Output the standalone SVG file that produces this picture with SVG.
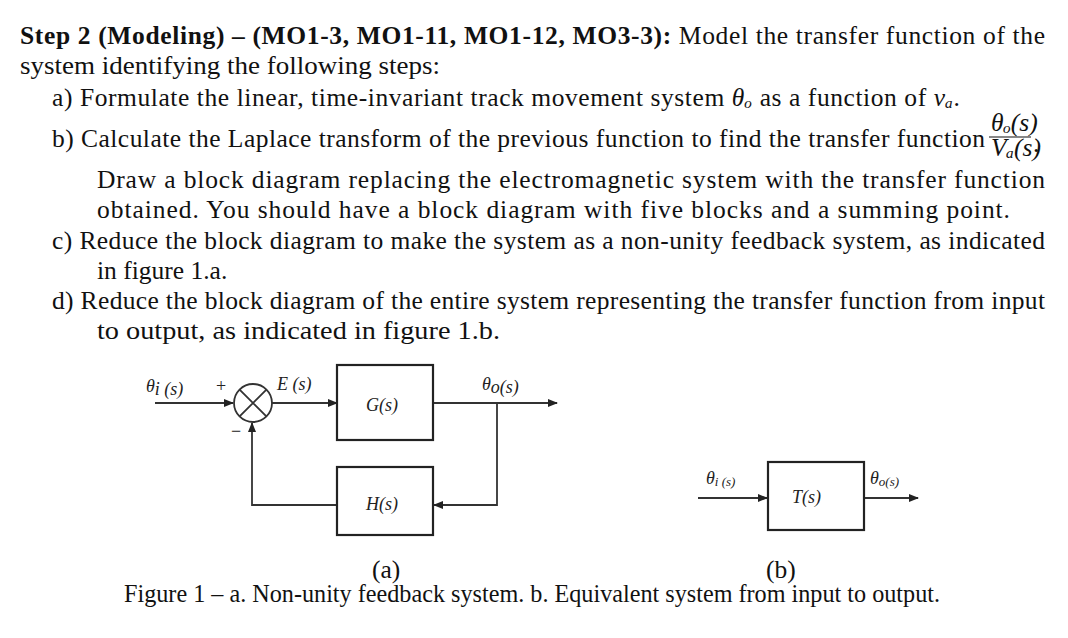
<svg xmlns="http://www.w3.org/2000/svg" width="1068" height="638" viewBox="0 0 1068 638">
<style>
.t{font-family:"Liberation Serif",serif;font-size:25.5px;fill:#111}
.b{font-weight:bold}
.d{font-family:"Liberation Serif",serif;font-size:18px;fill:#222}
.i{font-style:italic}
.box{fill:#fff;stroke:#222;stroke-width:2.2}
.ln{fill:none;stroke:#333;stroke-width:1.8}
</style>
<defs><marker id="a" markerWidth="10" markerHeight="8" refX="9" refY="4" orient="auto" markerUnits="userSpaceOnUse"><path d="M0,0L10,4L0,8z" fill="#222"/></marker></defs>
<rect width="1068" height="638" fill="#fff"/>
<g id="text">
<text class="t" x="20" y="44" textLength="1025" lengthAdjust="spacing"><tspan class="b">Step 2 (Modeling) – (MO1-3, MO1-11, MO1-12, MO3-3):</tspan> Model the transfer function of the</text>
<text class="t" x="20" y="74" textLength="420" lengthAdjust="spacingAndGlyphs">system identifying the following steps:</text>
<text class="t" x="52" y="106" textLength="908" lengthAdjust="spacing">a)  Formulate the linear, time-invariant track movement system <tspan class="i">θₒ</tspan> as a function of <tspan class="i">vₐ</tspan>.</text>
<text class="t" x="52" y="147" textLength="933" lengthAdjust="spacing">b)  Calculate the Laplace transform of the previous function to find the transfer function</text>
<text class="t i" x="991" y="131" font-size="15">θₒ(s)</text>
<line x1="989" y1="137" x2="1031" y2="137" stroke="#111" stroke-width="1.2"/>
<text class="t i" x="991" y="156" font-size="15">Vₐ(s)</text>
<text class="t" x="1033" y="152" font-size="18">.</text>
<text class="t" x="97" y="188" textLength="948" lengthAdjust="spacing">Draw a block diagram replacing the electromagnetic system with the transfer function</text>
<text class="t" x="97" y="218" textLength="913" lengthAdjust="spacing">obtained. You should have a block diagram with five blocks and a summing point.</text>
<text class="t" x="52" y="249" textLength="993" lengthAdjust="spacing">c)  Reduce the block diagram to make the system as a non-unity feedback system, as indicated</text>
<text class="t" x="97" y="279">in figure 1.a.</text>
<text class="t" x="52" y="309" textLength="993" lengthAdjust="spacing">d)  Reduce the block diagram of the entire system representing the transfer function from input</text>
<text class="t" x="97" y="339" textLength="403" lengthAdjust="spacingAndGlyphs">to output, as indicated in figure 1.b.</text>
<text class="t" x="372" y="578">(a)</text>
<text class="t" x="766" y="578">(b)</text>
<text class="t" x="124" y="602" textLength="816" lengthAdjust="spacingAndGlyphs">Figure 1 – a. Non-unity feedback system. b. Equivalent system from input to output.</text>
</g>
<g id="connectors">
<line class="ln" x1="155" y1="403" x2="233" y2="403" marker-end="url(#a)"/>
<line class="ln" x1="272" y1="403" x2="337" y2="403" marker-end="url(#a)"/>
<line class="ln" x1="433" y1="403" x2="557" y2="403" marker-end="url(#a)"/>
<polyline class="ln" points="497,403 497,505 434,505" marker-end="url(#a)"/>
<polyline class="ln" points="337,505 252,505 252,423" marker-end="url(#a)"/>
<line class="ln" x1="698" y1="498" x2="767" y2="498" marker-end="url(#a)"/>
<line class="ln" x1="864" y1="498" x2="918" y2="498" marker-end="url(#a)"/>
</g>
<g id="sum">
<circle cx="253" cy="403" r="19" fill="#fff" stroke="#333" stroke-width="1.8"/>
<path d="M239.6,389.6L266.4,416.4M266.4,389.6L239.6,416.4" stroke="#333" stroke-width="1.8"/>
<text class="d" x="216" y="392" font-size="20">+</text>
<text class="d" x="231" y="437" font-size="20">−</text>
</g>
<g id="G"><rect class="box" x="337" y="365" width="96" height="75"/><text class="d i" x="366" y="411">G(s)</text></g>
<g id="H"><rect class="box" x="337" y="467" width="96" height="68"/><text class="d i" x="366" y="510">H(s)</text></g>
<g id="T"><rect class="box" x="768" y="462" width="96" height="68"/><text class="d i" x="792" y="503">T(s)</text></g>
<g id="labels">
<text class="d i" x="146" y="392" font-size="26">θ<tspan font-size="18" dy="3">i (s)</tspan></text>
<text class="d i" x="277" y="390">E (s)</text>
<text class="d i" x="482" y="390" font-size="26">θ<tspan font-size="18" dy="3">o(s)</tspan></text>
<text class="d i" x="706" y="484" font-size="20">θ<tspan font-size="13" dy="2">i (s)</tspan></text>
<text class="d i" x="870" y="484" font-size="20">θ<tspan font-size="13" dy="2">o(s)</tspan></text>
</g>
</svg>
